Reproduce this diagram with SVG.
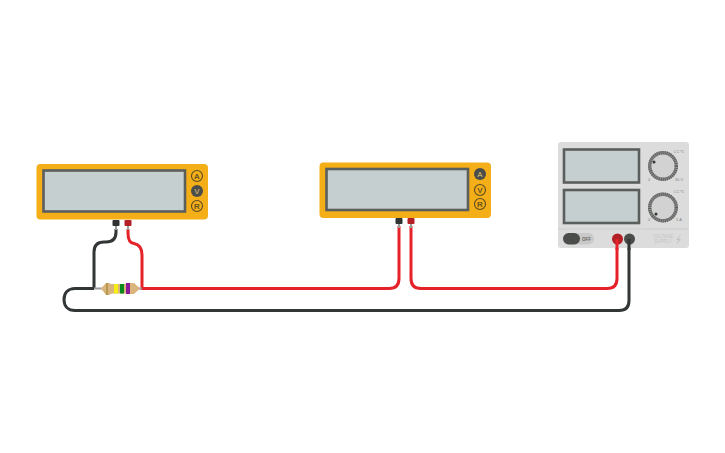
<svg xmlns="http://www.w3.org/2000/svg" width="725" height="453" viewBox="0 0 725 453">
<style>
.t{font-family:"Liberation Sans",Arial,sans-serif}
.case{fill:#f4ae17}
.lcd{fill:#c6cfd0;stroke:#5a5e5c;stroke-width:2.6}
.btn{fill:none;stroke:#5a4a24;stroke-width:1.1}
.btnon{fill:#4b4d4b}
.bl{font-size:8px;font-weight:bold;text-anchor:middle;fill:#6a5520}
.blon{font-size:8px;font-weight:bold;text-anchor:middle;fill:#b9a56a}
.red{fill:none;stroke:#e5222a;stroke-width:3}
.blk{fill:none;stroke:#333637;stroke-width:3}
.lead{fill:none;stroke:#9a9c9a;stroke-width:2}
.small{font-size:4px;fill:#888;text-anchor:middle}
.knobb{fill:none;stroke:#8b8d8b;stroke-width:3.4}
.knobo{fill:none;stroke:#5f615f;stroke-width:3.4;stroke-dasharray:1 1}
.knob{fill:#d2d2d2}
</style>
<rect width="725" height="453" fill="#fff"/>
<g id="connectors">
<path class="blk" d="M116 229V232Q116 242 106 242H104Q94 242 94 252V288.500"/>
<path class="red" d="M128 229V233Q128 243 134 243.500Q142 245 142 255V288.500H389Q399 288.500 399 278.500V226"/>
<path class="red" d="M411 226V278.500Q411 288.500 421 288.500H607Q617 288.500 617 278.500V240"/>
<path class="blk" d="M94 288.500H75C68 288.500 64 293 64 299.500C64 306 68 310.500 75 310.500H619Q629 310.500 629 300.500V240"/>
</g>
<g id="multimeter-1">
<rect class="case" x="36.500" y="164" width="171.500" height="55.500" rx="4"/>
<rect class="lcd" x="43.500" y="170.500" width="141.500" height="41"/>
<circle class="btn" cx="197" cy="176" r="5.500"/><text class="t bl" x="197" y="179">A</text>
<circle class="btnon" cx="197" cy="191" r="6"/><text class="t blon" x="197" y="194">V</text>
<circle class="btn" cx="197" cy="206" r="5.500"/><text class="t bl" x="197" y="209">R</text>
<rect x="112.500" y="220" width="7" height="6" rx="1" fill="#2f3233"/>
<rect x="124.500" y="220" width="7" height="6" rx="1" fill="#b21f24"/>
<path d="M116 226V230M128 226V230" stroke="#9a9c9a" stroke-width="2"/>
</g>
<g id="multimeter-2">
<rect class="case" x="319.500" y="162.500" width="171.500" height="55.500" rx="4"/>
<rect class="lcd" x="326.500" y="169" width="141.500" height="41"/>
<circle class="btnon" cx="480" cy="174" r="6"/><text class="t blon" x="480" y="177">A</text>
<circle class="btn" cx="480" cy="190" r="5.500"/><text class="t bl" x="480" y="193">V</text>
<circle class="btn" cx="480" cy="204" r="5.500"/><text class="t bl" x="480" y="207">R</text>
<rect x="395.500" y="218" width="7" height="6" rx="1" fill="#2f3233"/>
<rect x="407.500" y="218" width="7" height="6" rx="1" fill="#b21f24"/>
<path d="M399 224V228M411 224V228" stroke="#9a9c9a" stroke-width="2"/>
</g>
<g id="resistor">
<path class="lead" d="M94 288.500H104M134 288.500H142"/>
<path d="M101 288.500L106 283H109Q110 284 112 284H127Q129 283 131 283H134L140 288.500L134 294H131Q129 293.500 127 293.500H112Q110 294 109 295H106Z" fill="#d9b47c"/>
<rect x="106" y="283" width="2" height="12" fill="#b59a4e"/>
<rect x="114" y="284" width="4" height="9.500" fill="#f5ee12"/>
<rect x="120" y="284" width="4" height="9.500" fill="#0a8a1c"/>
<rect x="126" y="283" width="4" height="11" fill="#8a1a9a"/>
</g>
<g id="power-supply">
<rect x="558" y="142" width="131" height="106" rx="3" fill="#dcdcdc"/>
<path d="M558 229H689" stroke="#cbcbcb" stroke-width="1"/>
<rect x="564" y="149.500" width="75" height="33" fill="#c6cfd0" stroke="#5a5e5c" stroke-width="2.600"/>
<rect x="564" y="190" width="75" height="33" fill="#c6cfd0" stroke="#5a5e5c" stroke-width="2.600"/>
<circle class="knob" cx="663" cy="166" r="14"/><circle class="knobb" cx="663" cy="166" r="13.300"/><circle class="knobo" cx="663" cy="166" r="13.300"/>
<circle cx="654" cy="162" r="1.500" fill="#333"/>
<circle class="knob" cx="663" cy="207.500" r="14"/><circle class="knobb" cx="663" cy="207.500" r="13.300"/><circle class="knobo" cx="663" cy="207.500" r="13.300"/>
<circle cx="656" cy="214" r="1.500" fill="#333"/>
<text class="t small" x="649" y="181">0</text><text class="t small" x="679" y="181">30 V</text>
<text class="t small" x="649" y="221">0</text><text class="t small" x="679" y="221">5 A</text>
<text class="t small" x="679" y="153">CC ℃</text><text class="t small" x="679" y="193">CC ℃</text>
<rect x="563" y="233" width="31" height="11.500" rx="5.700" fill="#c9c9c9"/>
<rect x="563" y="233" width="17" height="11.500" rx="5.700" fill="#4b4d4b"/>
<text class="t" x="586.500" y="240.500" font-size="4.500" font-weight="bold" fill="#666" text-anchor="middle">OFF</text>
<circle cx="617.500" cy="239" r="5.500" fill="#b21f24"/>
<circle cx="629.500" cy="239" r="5.500" fill="#4b4d4b"/>
<path class="red" d="M617 239V250"/>
<path class="blk" d="M629 239V250"/>
<text class="t" x="663" y="238" font-size="4.500" fill="#c4c4c4" text-anchor="middle">VOLTAGE</text>
<text class="t" x="663" y="243" font-size="4.500" fill="#c4c4c4" text-anchor="middle">SUPPLY</text>
<path d="M681 234L676 240H678.500L676 245L681 239H678.500Z" fill="#c4c4c4"/>
</g>
</svg>
